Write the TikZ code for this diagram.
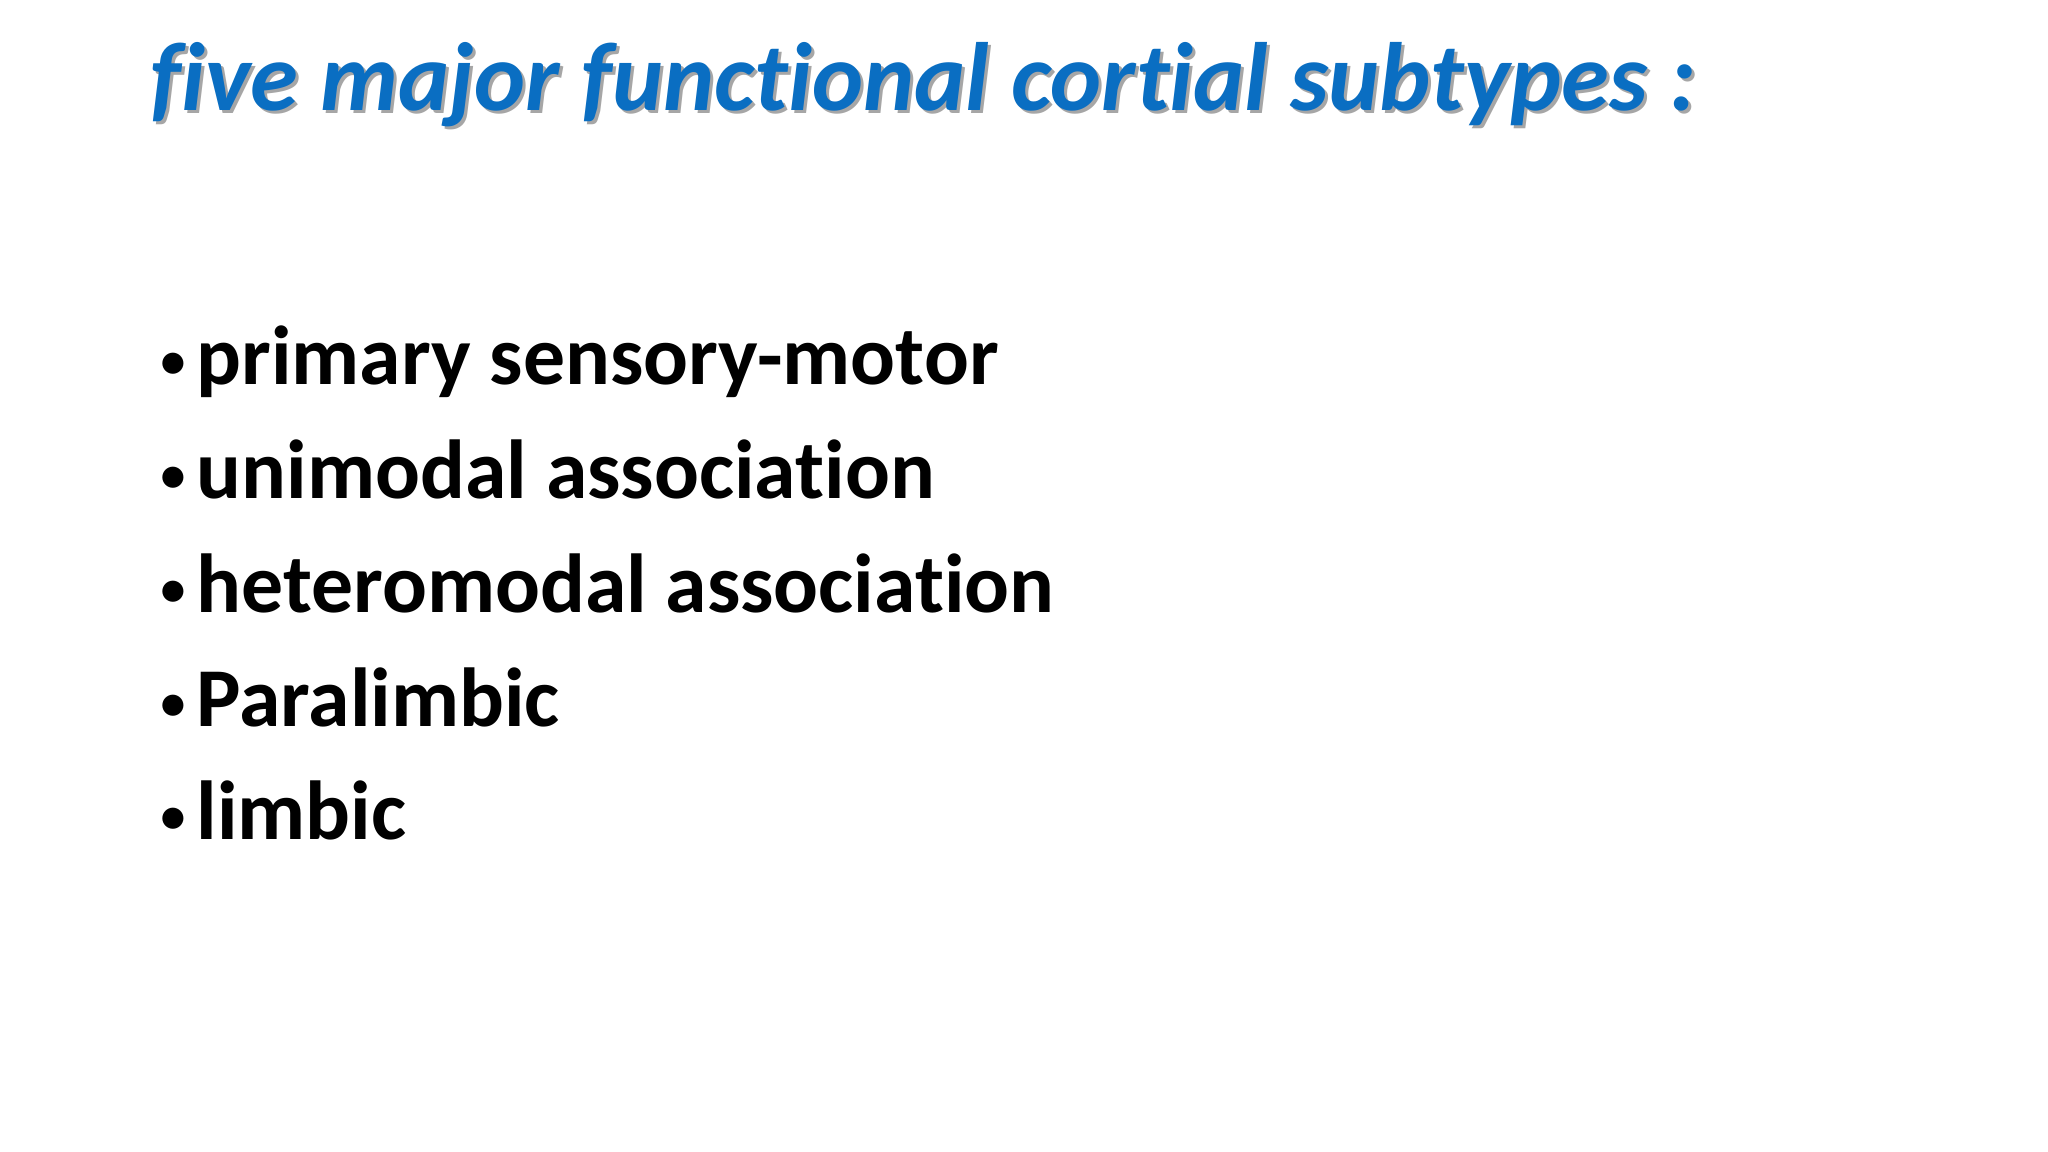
\documentclass[tikz,border=0pt]{standalone}
\usepackage{fontspec}
\setmainfont[Ligatures=NoCommon]{Carlito}
\definecolor{titleblue}{HTML}{0A6EC2}
\begin{document}
\begin{tikzpicture}[x=0.01cm,y=0.01cm,
  item/.style={anchor=base west,inner sep=0,font=\fontsize{23.8}{28}\selectfont\bfseries},
  dot/.style={anchor=base west,inner sep=0,font=\fontsize{17}{20}\selectfont}]
\fill[white] (0,0) rectangle (2048,1152);
\useasboundingbox (0,0) rectangle (2048,1152);
\node[anchor=base west,inner sep=0,text=black!35,font=\fontsize{27.6}{31}\selectfont\bfseries\itshape] (tsh) at (153,1038) {five major functional cortial subtypes :};
\node[anchor=base west,inner sep=0,text=titleblue,font=\fontsize{27.6}{31}\selectfont\bfseries\itshape] (title) at (150,1041) {five major functional cortial subtypes :};
\foreach \t [count=\i] in {primary sensory-motor,unimodal association,heteromodal association,Paralimbic,limbic}{
  \node[dot] (b\i) at (158,{1152-385-(\i-1)*113.7+4}) {•};
  \node[item] (t\i) at (196,{1152-385-(\i-1)*113.7}) {\t};
}
\end{tikzpicture}
\end{document}
